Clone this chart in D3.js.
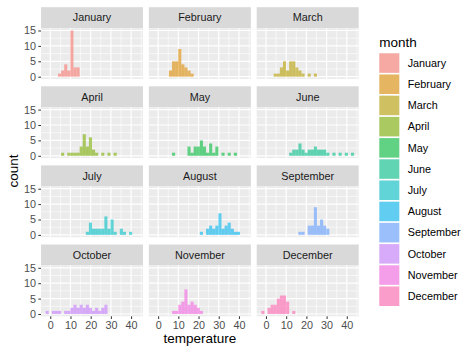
<!DOCTYPE html>
<html><head><meta charset="utf-8">
<script src="https://cdn.jsdelivr.net/npm/d3@7"></script>
<style>
body{margin:0;background:#fff}
svg{display:block}
text{font-family:"Liberation Sans",Arial,Helvetica,sans-serif}
</style>
</head><body>
<svg id="chart" width="474" height="355"></svg>
<script>
// ---- data ----
const months = ["January","February","March","April","May","June","July","August","September","October","November","December"];
const monthColors = ["#F8766D","#DE8C00","#B79F00","#7CAE00","#00BA38","#00C08B","#00BFC4","#00B4F0","#619CFF","#C77CFF","#F564E3","#FF64B0"];
const binStart = -2.3;      // left edge of first temperature bin
const binWidth = 1.53;      // temperature bin width
const xTicks = [0,10,20,30,40];
const yTicks = [0,5,10,15];
const countsJan = [0,0,0,0,1,2,4,2,15,3,3,0,0,0,0,0,0,0,0,0,0,0,0,0,0,0,0,0,0,0];
const countsFeb = [0,0,0,0,0,2,5,5,9,4,3,2,1,0,0,0,0,0,0,0,0,0,0,0,0,0,0,0,0,0];
const countsMar = [0,0,0,0,1,1,3,5,2,5,5,3,2,1,0,1,0,1,0,0,0,0,0,0,0,0,0,0,0,0];
const countsApr = [0,0,0,0,0,1,0,1,1,1,1,3,7,3,6,2,1,0,1,0,1,0,1,0,0,0,0,0,0,0];
const countsMay = [0,0,0,0,0,0,1,0,0,0,0,3,1,3,3,5,3,1,4,1,3,0,1,0,1,0,1,0,0,0];
const countsJun = [0,0,0,0,0,0,0,0,0,1,2,2,4,2,1,2,2,3,2,2,2,1,0,1,0,1,0,1,0,1];
const countsJul = [0,0,0,0,0,0,0,0,0,0,0,0,0,1,4,2,2,2,2,6,2,5,1,0,2,1,0,1,0,0];
const countsAug = [0,0,0,0,0,0,0,0,0,0,0,0,0,0,0,1,0,2,3,2,3,7,2,3,4,2,1,1,0,0];
const countsSep = [0,0,0,0,0,0,0,0,0,0,0,0,1,1,0,3,3,9,3,5,3,2,0,0,0,0,0,0,0,0];
const countsOct = [1,0,1,1,1,0,1,1,2,3,2,3,2,3,2,1,2,1,2,3,0,0,0,0,0,0,0,0,0,0];
const countsNov = [0,0,0,0,0,0,1,1,3,4,8,3,4,3,2,1,0,0,0,0,0,0,0,0,0,0,0,0,0,0];
const countsDec = [1,0,2,3,3,5,6,6,4,0,1,0,0,0,0,0,0,0,0,0,0,0,0,0,0,0,0,0,0,0];
const monthCounts = [countsJan,countsFeb,countsMar,countsApr,countsMay,countsJun,
                     countsJul,countsAug,countsSep,countsOct,countsNov,countsDec];

// ---- layout ----
const svg = d3.select("#chart");
const panelLeft = 41, colPitch = 107.85, panelW = 102;
const panelTop = 28.2, rowPitch = 79.1, panelH = 50.8, stripH = 21;
const alpha = 0.6;
const nBins = countsJan.length;
const dataMin = binStart, dataMax = binStart + nBins * binWidth;
const pad = (dataMax - dataMin) * 0.05;
const yMax = d3.max(monthCounts, c => d3.max(c));

const x = d3.scaleLinear().domain([dataMin - pad, dataMax + pad]).range([0, panelW]);
const y = d3.scaleLinear().domain([-yMax*0.05, yMax*1.05]).range([panelH, 0]);

const xMinor = [-5,5,15,25,35,45].filter(v => v >= x.domain()[0] && v <= x.domain()[1]);
const yMinor = [-2.5,2.5,7.5,12.5,17.5].filter(v => v >= y.domain()[0] && v <= y.domain()[1]);

months.forEach((m, i) => {
  const col = i % 3, row = Math.floor(i / 3);
  const g = svg.append("g").attr("transform", `translate(${panelLeft + col*colPitch},${panelTop + row*rowPitch})`);
  // strip
  g.append("rect").attr("x",0).attr("y",-stripH).attr("width",panelW).attr("height",stripH).attr("fill","#D9D9D9");
  g.append("text").attr("x",panelW/2).attr("y",-stripH/2).attr("dy","0.35em")
    .attr("text-anchor","middle").attr("font-size","10.8px").attr("fill","#1A1A1A").text(m);
  // panel bg
  g.append("rect").attr("width",panelW).attr("height",panelH).attr("fill","#EBEBEB");
  // minor grid
  g.selectAll(".xm").data(xMinor).join("line").attr("x1",d=>x(d)).attr("x2",d=>x(d))
    .attr("y1",0).attr("y2",panelH).attr("stroke","#fff").attr("stroke-width",0.6);
  g.selectAll(".ym").data(yMinor).join("line").attr("y1",d=>y(d)).attr("y2",d=>y(d))
    .attr("x1",0).attr("x2",panelW).attr("stroke","#fff").attr("stroke-width",0.6);
  // major grid
  g.selectAll(".xM").data(xTicks).join("line").attr("x1",d=>x(d)).attr("x2",d=>x(d))
    .attr("y1",0).attr("y2",panelH).attr("stroke","#fff").attr("stroke-width",1.2);
  g.selectAll(".yM").data(yTicks).join("line").attr("y1",d=>y(d)).attr("y2",d=>y(d))
    .attr("x1",0).attr("x2",panelW).attr("stroke","#fff").attr("stroke-width",1.2);
  // bars
  const bins = monthCounts[i].map((c, k) => ({x0: binStart + k*binWidth, x1: binStart + (k+1)*binWidth, c}))
    .filter(b => b.c > 0);
  g.selectAll(".bar").data(bins).join("rect")
    .attr("x", d => x(d.x0)).attr("width", d => x(d.x1) - x(d.x0))
    .attr("y", d => y(d.c)).attr("height", d => y(0) - y(d.c))
    .attr("fill", monthColors[i]).attr("fill-opacity", alpha);
  // y axis on first column
  if (col === 0) {
    const ya = g.append("g").call(d3.axisLeft(y).tickValues(yTicks).tickSize(2.7).tickPadding(2.2));
    ya.select(".domain").remove();
    ya.selectAll("line").attr("stroke","#333333").attr("stroke-width",1);
    ya.selectAll("text").attr("font-size","10.8px").attr("fill","#4D4D4D")
      .attr("font-family",'"Liberation Sans",Arial,sans-serif');
  }
  // x axis on bottom row
  if (row === 3) {
    const xa = g.append("g").attr("transform",`translate(0,${panelH})`)
      .call(d3.axisBottom(x).tickValues(xTicks).tickSize(2.7).tickPadding(2.2));
    xa.select(".domain").remove();
    xa.selectAll("line").attr("stroke","#333333").attr("stroke-width",1);
    xa.selectAll("text").attr("font-size","10.8px").attr("fill","#4D4D4D")
      .attr("font-family",'"Liberation Sans",Arial,sans-serif');
  }
});

// axis titles
svg.append("text").attr("x", panelLeft + (2*colPitch + panelW)/2).attr("y", 342.5)
  .attr("text-anchor","middle").attr("font-size","13.5px").attr("fill","#000").text("temperature");
svg.append("text").attr("transform","translate(18.3,171) rotate(-90)")
  .attr("text-anchor","middle").attr("font-size","13.5px").attr("fill","#000").text("count");

// legend
const lg = svg.append("g").attr("transform","translate(379.3,0)");
lg.append("text").attr("x",0).attr("y",46.5).attr("font-size","13.5px").attr("fill","#000").text("month");
const keyPitch = 21.2, keyW = 20, keyH = 19.5, keyTop = 53.3;
const items = lg.selectAll(".key").data(months).join("g")
  .attr("transform",(d,i)=>`translate(0,${keyTop + i*keyPitch})`);
items.append("rect").attr("width",keyW).attr("height",keyH).attr("fill","#F2F2F2");
items.append("rect").attr("width",keyW).attr("height",keyH)
  .attr("fill",(d,i)=>monthColors[i]).attr("fill-opacity",alpha);
items.append("text").attr("x",28.4).attr("y",keyH/2).attr("dy","0.35em")
  .attr("font-size","10.8px").attr("fill","#000").text(d=>d);
</script>
</body></html>
